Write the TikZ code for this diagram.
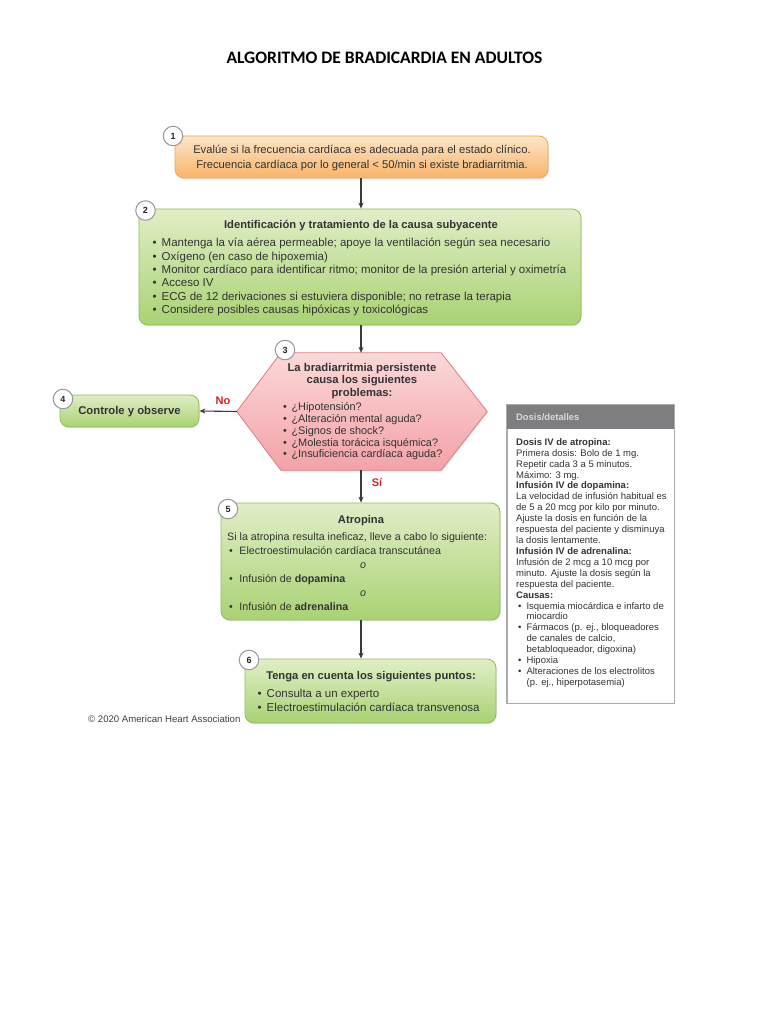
\documentclass[tikz,border=0pt]{standalone}
\usepackage{fontspec}
\setmainfont{Liberation Sans}
\newfontfamily\titlefont{Carlito}
\usetikzlibrary{arrows.meta,calc,shadows}
\definecolor{txt}{HTML}{333333}
\definecolor{orTop}{HTML}{FDE5C6}
\definecolor{orBot}{HTML}{F8B46A}
\definecolor{orLine}{HTML}{EFA55A}
\definecolor{grTop}{HTML}{E0EEC6}
\definecolor{grBot}{HTML}{A9D273}
\definecolor{grLine}{HTML}{8DBE5C}
\definecolor{pkTop}{HTML}{FCD8D8}
\definecolor{pkBot}{HTML}{F2A2A8}
\definecolor{pkLine}{HTML}{E07B83}
\definecolor{redlbl}{HTML}{D2232A}
\definecolor{panelHead}{HTML}{7E7E80}
\definecolor{panelLine}{HTML}{ABABAB}
\definecolor{arrowc}{HTML}{3A3A3A}
\begin{document}
\begin{tikzpicture}[x=1pt,y=-1pt,
  every node/.style={text=txt},
  boxbase/.style={line width=0.8pt, rounded corners=9pt, inner sep=0pt,
    drop shadow={opacity=0.18, shadow xshift=0.8pt, shadow yshift=-1.4pt}},
  greenbox/.style={boxbase, draw=grLine, top color=grTop, bottom color=grBot},
  orangebox/.style={boxbase, draw=orLine, top color=orTop, bottom color=orBot},
  numc/.style={circle, draw=black!40, fill=white, line width=1pt, minimum size=19.5pt, inner sep=0pt, font=\fontsize{9}{10}\selectfont\bfseries, text=black!85},
  arr/.style={draw=arrowc, line width=1.1pt, -{Stealth[length=6pt,width=5pt]}},
  body/.style={inner sep=0pt, font=\fontsize{11.5}{13.35}\selectfont, align=left},
  head/.style={inner sep=0pt, font=\fontsize{11.2}{12.5}\selectfont\bfseries},
  lbl/.style={inner sep=0pt, font=\fontsize{11}{12}\selectfont\bfseries, text=redlbl},
  ptext/.style={inner sep=0pt, font=\fontsize{9.5}{10.92}\selectfont, align=left, text=black!80}
]
\useasboundingbox (0,0) rectangle (768,1024);
\fill[white] (0,0) rectangle (768,1024);

% title
\node[inner sep=0pt, font=\titlefont\fontsize{17.5}{20}\selectfont\bfseries, text=black] (title) at (384.5,58) {ALGORITMO DE BRADICARDIA EN ADULTOS};

% box 1
\node[orangebox, minimum width=373pt, minimum height=42pt] (b1) at (361.5,157) {};
\node[body, align=center, font=\fontsize{11.2}{14.5}\selectfont] (t1) at (362,158) {Evalúe si la frecuencia cardíaca es adecuada para el estado clínico.\\Frecuencia cardíaca por lo general < 50/min si existe bradiarritmia.};
\node[numc] (n1) at (173,136) {1};

% box 2
\node[greenbox, minimum width=442pt, minimum height=116pt] (b2) at (360,267) {};
\node[head] (t2h) at (361,225.5) {Identificación y tratamiento de la causa subyacente};
\node[body, anchor=north west] (t2) at (152.5,237.2) {\strut•\hspace{5pt}Mantenga la vía aérea permeable; apoye la ventilación según sea necesario\\
•\hspace{5pt}Oxígeno (en caso de hipoxemia)\\
•\hspace{5pt}Monitor cardíaco para identificar ritmo; monitor de la presión arterial y oximetría\\
•\hspace{5pt}Acceso IV\\
•\hspace{5pt}ECG de 12 derivaciones si estuviera disponible; no retrase la terapia\\
•\hspace{5pt}Considere posibles causas hipóxicas y toxicológicas};
\node[numc] (n2) at (145.5,210.5) {2};

% hexagon 3
\node[minimum width=250pt, minimum height=117pt, inner sep=0pt] (h) at (362,411.5) {};
\shade[top color=pkTop, bottom color=pkBot, drop shadow={opacity=0.18, shadow xshift=0.8pt, shadow yshift=-1.4pt}]
  (h.west) -- ($(h.north west)+(44,0)$) -- ($(h.north east)+(-46,0)$) -- (h.east) -- ($(h.south east)+(-46,0)$) -- ($(h.south west)+(44,0)$) -- cycle;
\draw[pkLine, line width=0.8pt, line join=miter]
  (h.west) -- ($(h.north west)+(44,0)$) -- ($(h.north east)+(-46,0)$) -- (h.east) -- ($(h.south east)+(-46,0)$) -- ($(h.south west)+(44,0)$) -- cycle;
\node[head, align=center, font=\fontsize{11.3}{12.5}\selectfont\bfseries] (t3h) at (362,381) {La bradiarritmia persistente\\causa los siguientes\\problemas:};
\node[body, anchor=north west, font=\fontsize{10.9}{11.8}\selectfont] (t3) at (283,402.2) {\strut•\hspace{4.5pt}¿Hipotensión?\\
•\hspace{4.5pt}¿Alteración mental aguda?\\
•\hspace{4.5pt}¿Signos de shock?\\
•\hspace{4.5pt}¿Molestia torácica isquémica?\\
•\hspace{4.5pt}¿Insuficiencia cardíaca aguda?};
\node[numc] (n3) at (285,350) {3};

% box 4
\node[greenbox, minimum width=139pt, minimum height=32pt] (b4) at (129.5,411) {};
\node[head, font=\fontsize{11.3}{12.5}\selectfont\bfseries] (t4) at (129.5,412) {Controle y observe};
\node[numc] (n4) at (63,399) {4};

% box 5
\node[greenbox, minimum width=279pt, minimum height=117pt] (b5) at (360.5,561.5) {};
\node[head] (t5h) at (361,520.5) {Atropina};
\node[body, anchor=north west, font=\fontsize{10.7}{14}\selectfont] (t5) at (227,530.6) {\strut Si la atropina resulta ineficaz, lleve a cabo lo siguiente:\\
\hspace{2pt}•\hspace{6.5pt}Electroestimulación cardíaca transcutánea\\
\hspace{133pt}\textit{o}\\
\hspace{2pt}•\hspace{6.5pt}Infusión de \textbf{dopamina}\\
\hspace{133pt}\textit{o}\\
\hspace{2pt}•\hspace{6.5pt}Infusión de \textbf{adrenalina}};
\node[numc] (n5) at (228,509) {5};

% box 6
\node[greenbox, minimum width=251pt, minimum height=64pt] (b6) at (370.5,691) {};
\node[head] (t6h) at (371,677) {Tenga en cuenta los siguientes puntos:};
\node[body, anchor=north west, font=\fontsize{11.5}{14}\selectfont] (t6) at (257.5,687.5) {\strut•\hspace{5pt}Consulta a un experto\\
•\hspace{5pt}Electroestimulación cardíaca transvenosa};
\node[numc] (n6) at (249,660) {6};

% copyright
\node[inner sep=0pt, anchor=west, font=\fontsize{9.6}{11}\selectfont, text=black!75] (copy) at (88,719) {© 2020 American Heart Association};

% arrows
\draw[arr] (b1.south -| t2h) -- (t2h |- b2.north);
\draw[arr] (b2.south -| t2h) -- (t2h |- h.north);
\draw[arr] (h.west) -- (b4.east);
\draw[arr] (h.south -| t2h) -- (t2h |- b5.north);
\draw[arr] (b5.south -| t2h) -- (t2h |- b6.north);
\node[lbl] (no) at (223,401) {No};
\node[lbl] (si) at (377,483) {Sí};

% panel
\node[draw=panelLine, line width=1pt, fill=white, minimum width=167pt, minimum height=298pt, inner sep=0pt] (pn) at (590.5,554) {};
\fill[panelHead] (pn.north west) rectangle ($(pn.north east)+(0,24)$);
\draw[panelLine, line width=1pt] (pn.north west) rectangle (pn.south east);
\node[inner sep=0pt, anchor=west, font=\fontsize{9.4}{10}\selectfont\bfseries, text=white!85!black] (ph) at (516,417.5) {Dosis/detalles};
\node[ptext, anchor=north west] (pt) at (516,437.4) {\strut\textbf{Dosis IV de atropina:}\\
Primera dosis: Bolo de 1 mg.\\
Repetir cada 3 a 5 minutos.\\
Máximo: 3 mg.\\
\textbf{Infusión IV de dopamina:}\\
La velocidad de infusión habitual es\\
de 5 a 20 mcg por kilo por minuto.\\
Ajuste la dosis en función de la\\
respuesta del paciente y disminuya\\
la dosis lentamente.\\
\textbf{Infusión IV de adrenalina:}\\
Infusión de 2 mcg a 10 mcg por\\
minuto. Ajuste la dosis según la\\
respuesta del paciente.\\
\textbf{Causas:}\\
\hspace{2pt}•\hspace{5pt}Isquemia miocárdica e infarto de\\
\hspace{10.5pt}miocardio\\
\hspace{2pt}•\hspace{5pt}Fármacos (p. ej., bloqueadores\\
\hspace{10.5pt}de canales de calcio,\\
\hspace{10.5pt}betabloqueador, digoxina)\\
\hspace{2pt}•\hspace{5pt}Hipoxia\\
\hspace{2pt}•\hspace{5pt}Alteraciones de los electrolitos\\
\hspace{10.5pt}(p. ej., hiperpotasemia)};
\end{tikzpicture}
\end{document}
